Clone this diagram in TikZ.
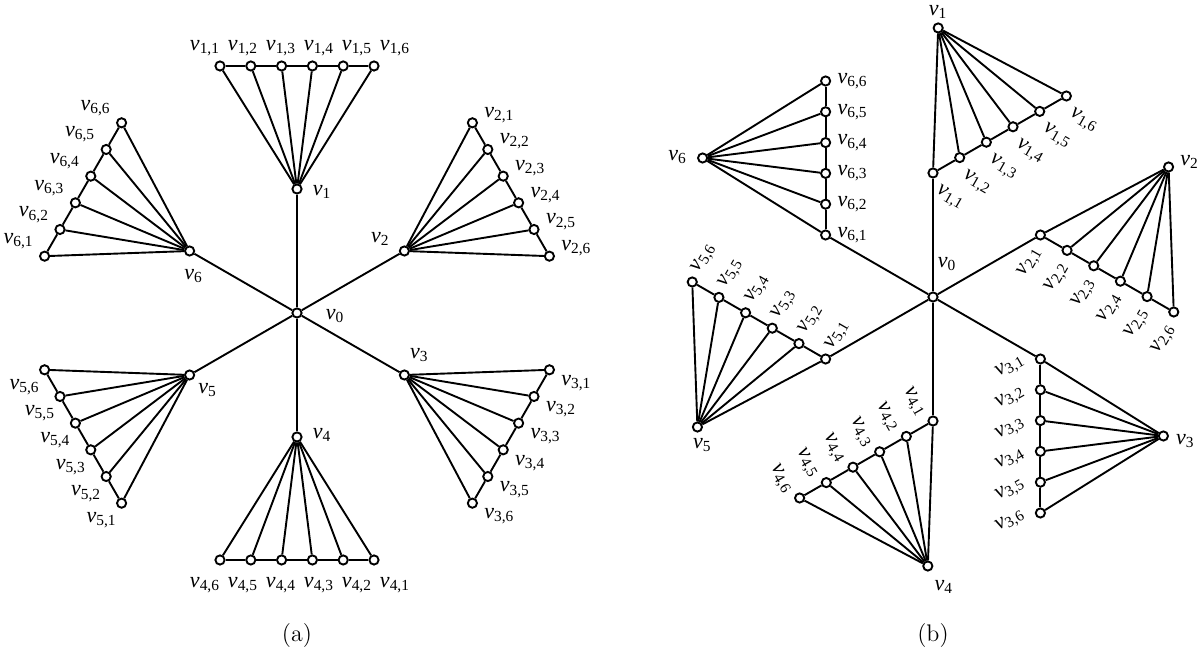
\documentclass[tikz,border=0pt]{standalone}
\usepackage{fontspec}
\usepackage{tikz}
\usetikzlibrary{calc}
\newfontfamily\labfont{Liberation Serif}
\tikzset{
  vtx/.style={circle,draw,fill=white,line width=0.95pt,inner sep=0pt,minimum size=4.6pt},
  link/.style={line width=0.95pt},
  vlab/.style={font=\labfont\fontsize{11}{13}\selectfont,inner sep=0pt},
  caption/.style={font=\fontsize{12}{14}\selectfont,inner sep=0pt}
}
\newcommand{\fanA}[5]{%
  \pgfmathsetmacro{\sideang}{#2-90}%
  \node[vtx] (a#1) at ($(a0)+(#2:124)$) {};%
  \coordinate (ac#1) at ($(a#1)+(#2:123)$);%
  \foreach \j in {1,...,6}{%
    \pgfmathsetmacro{\fOff}{(\j-3.5)*30.8}%
    \pgfmathsetmacro{\lOff}{(\j-3.5)*#4}%
    \node[vtx] (a#1-\j) at ($(ac#1)+(\sideang:\fOff)$) {};%
    \node[vlab] (la#1-\j) at ($(ac#1)+(\sideang:\lOff)+(#5)$) {\textit{v}\textsubscript{#1,\j}};%
  }%
  \node[vlab] (la#1) at ($(a#1)+(#3)$) {\textit{v}\textsubscript{#1}};%
  \draw[link] (a0) -- (a#1);%
  \foreach \j in {1,...,6} \draw[link] (a#1) -- (a#1-\j);%
  \foreach \j [remember=\j as \jp (initially 1)] in {2,...,6} \draw[link] (a#1-\jp) -- (a#1-\j);%
}
\newcommand{\fanB}[5]{%
  \pgfmathsetmacro{\pathang}{#2-60}%
  \pgfmathsetmacro{\apexang}{#2+30}%
  \coordinate (bs#1) at ($(b0)+(#2:124)$);%
  \foreach \j in {1,...,6}{%
    \pgfmathsetmacro{\fOff}{(\j-1)*30.8}%
    \node[vtx] (b#1-\j) at ($(bs#1)+(\pathang:\fOff)$) {};%
    \node[vlab,rotate=#5] (lb#1-\j) at ($(b#1-\j)+(#4)$) {\textit{v}\textsubscript{#1,\j}};%
  }%
  \node[vtx] (b#1) at ($(bs#1)+(\pathang:77)+(\apexang:123)$) {};%
  \node[vlab] (lb#1) at ($(b#1)+(#3)$) {\textit{v}\textsubscript{#1}};%
  \draw[link] (b0) -- (b#1-1);%
  \foreach \j in {1,...,6} \draw[link] (b#1) -- (b#1-\j);%
  \foreach \j [remember=\j as \jp (initially 1)] in {2,...,6} \draw[link] (b#1-\jp) -- (b#1-\j);%
}

\begin{document}
\begin{tikzpicture}[x=0.5pt,y=0.5pt]
  \useasboundingbox (0,0) rectangle (1200,656);
  \node[vtx] (a0) at (297,343) {};
  \node[vlab] (la0) at ($(a0)+(38,-3)$) {\textit{v}\textsubscript{0}};
  \fanA{1}{90}{25,-3}{38}{3,18}
  \fanA{2}{30}{-24,12}{30.8}{27,8}
  \fanA{3}{-30}{15,20}{30.8}{27,-13}
  \fanA{4}{-90}{25,2}{38}{3,-25}
  \fanA{5}{-150}{18,-15}{30.8}{-20,-17}
  \fanA{6}{150}{4,-25}{30.8}{-26,15}
  \node[caption] (capa) at (297,20) {(a)};
  \node[vtx] (b0) at (933,359) {};
  \node[vlab] (lb0) at ($(b0)+(14,33)$) {\textit{v}\textsubscript{0}};
  \fanB{1}{90}{0,16}{17,-25}{-30}
  \fanB{2}{30}{21,5}{-10,-27}{60}
  \fanB{3}{-30}{22,-5}{-30,-8}{30}
  \fanB{4}{-90}{16,-21}{-19,19}{-60}
  \fanB{5}{-150}{5,-18}{12,24}{60}
  \fanB{6}{150}{-25,1}{27,0}{0}
  \node[caption] (capb) at (933,20) {(b)};
\end{tikzpicture}
\end{document}
